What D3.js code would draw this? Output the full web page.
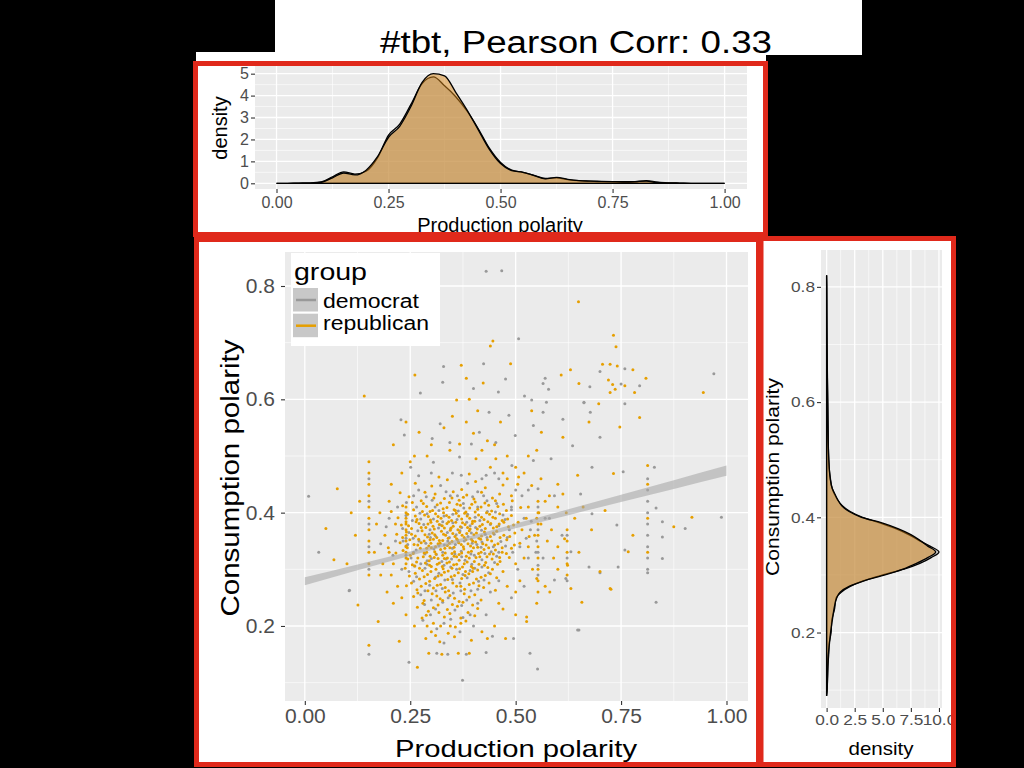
<!DOCTYPE html>
<html>
<head>
<meta charset="utf-8">
<script src="https://d3js.org/d3.v7.min.js"></script>
<style>
  body { margin: 0; background: #000; }
  svg { display: block; font-family: "Liberation Sans", Arial, sans-serif; }
</style>
</head>
<body>
<div id="chart"></div>
<script>
// Chart data

var titleText = "#tbt, Pearson Corr: 0.33";
var groups = ["democrat", "republican"];
var groupColors = { democrat: "#999999", republican: "#E69F00" };

// top panel: density of production polarity
var prodGrid = [0, 0.025, 0.05, 0.075, 0.1, 0.125, 0.15, 0.175, 0.2, 0.225, 0.25, 0.275, 0.3, 0.325,
  0.35, 0.375, 0.4, 0.425, 0.45, 0.475, 0.5, 0.525, 0.55, 0.575, 0.6, 0.625, 0.65, 0.675, 0.7, 0.725,
  0.75, 0.775, 0.8, 0.825, 0.85, 0.875, 0.9, 0.925, 0.95, 0.975, 1.0];
var prodDem = [0, 0, 0.01, 0.02, 0.06, 0.3, 0.52, 0.42, 0.55, 1.15, 2.2, 2.7, 3.6, 4.55, 4.85, 4.45,
  3.95, 3.3, 2.5, 1.6, 0.95, 0.6, 0.5, 0.36, 0.22, 0.25, 0.17, 0.12, 0.1, 0.08, 0.08, 0.06, 0.07, 0.12,
  0.05, 0.02, 0.01, 0, 0, 0, 0];
var prodRep = [0, 0, 0.01, 0.01, 0.05, 0.25, 0.47, 0.38, 0.6, 1.2, 2.1, 2.6, 3.5, 4.6, 5.0, 4.9,
  4.15, 3.35, 2.45, 1.55, 0.9, 0.58, 0.5, 0.35, 0.2, 0.27, 0.18, 0.12, 0.1, 0.09, 0.08, 0.07, 0.08, 0.1,
  0.04, 0.02, 0.01, 0, 0, 0, 0];

// right panel: density of consumption polarity
var consGrid = [0.09, 0.10, 0.12, 0.14, 0.16, 0.18, 0.20, 0.22, 0.24, 0.26, 0.27, 0.28, 0.29, 0.30,
  0.31, 0.32, 0.33, 0.34, 0.35, 0.36, 0.37, 0.38, 0.39, 0.40, 0.41, 0.42, 0.43, 0.44, 0.45, 0.47,
  0.50, 0.55, 0.60, 0.65, 0.70, 0.75, 0.80, 0.82];
var consDem = [0, 0.04, 0.08, 0.1, 0.18, 0.22, 0.4, 0.45, 0.7, 0.85, 1.3, 2.1, 3.3, 5.0, 6.9, 8.3,
  9.3, 10.0, 9.2, 8.2, 7.3, 6.2, 4.8, 3.2, 2.1, 1.4, 1.0, 0.7, 0.5, 0.32, 0.18, 0.14, 0.1, 0.07, 0.04,
  0.03, 0.02, 0];
var consRep = [0, 0.05, 0.08, 0.12, 0.15, 0.25, 0.35, 0.5, 0.65, 0.9, 1.2, 2.0, 3.4, 5.2, 6.8, 8.0,
  9.0, 9.7, 9.0, 8.3, 7.5, 6.4, 5.0, 3.1, 2.0, 1.35, 1.0, 0.75, 0.5, 0.3, 0.2, 0.12, 0.1, 0.06, 0.04,
  0.02, 0.01, 0];

// linear fit with its band
var smoothX = [0, 0.125, 0.25, 0.375, 0.5, 0.625, 0.75, 0.875, 1.0];
var smoothFit = [0.279, 0.3034, 0.3278, 0.3521, 0.3765, 0.4009, 0.4253, 0.4496, 0.474];
var smoothSE = [0.007, 0.0052, 0.0038, 0.0033, 0.0042, 0.0053, 0.0065, 0.0078, 0.009];

// scatter: [production, consumption]
var demPoints = [
  [.43,.826],[.467,.827],[.507,.707],[.329,.658],[.424,.663],[.327,.63],[.40,.619],[.459,.613],
  [.476,.636],[.274,.611],[.57,.637],[.565,.628],[.578,.618],[.676,.622],[.70,.649],[.759,.654],
  [.75,.627],[.794,.624],[.97,.645],[.521,.606],[.538,.599],[.573,.595],[.662,.595],[.437,.577],
  [.484,.572],[.228,.564],[.321,.557],[.302,.531],[.236,.537],[.344,.524],[.395,.521],[.414,.542],
  [.453,.524],[.499,.536],[.565,.577],[.542,.554],[.612,.565],[.635,.518],[.677,.577],[.70,.533],
  [.759,.592],[.662,.594],[.251,.48],[.305,.489],[.367,.498],[.371,.466],[.43,.466],[.491,.483],
  [.542,.492],[.584,.495],[.553,.442],[.592,.43],[.654,.433],[.681,.48],[.755,.472],[.829,.48],
  [.681,.398],[.74,.378],[.759,.334],[.848,.384],[.848,.357],[.902,.372],[.988,.392],[.833,.408],
  [.833,.242],[.743,.304],[.848,.319],[.674,.304],[.631,.331],[.619,.284],[.592,.281],[.553,.307],
  [.65,.193],[.009,.429],[.033,.33],[.106,.263],[.152,.15],[.247,.136],[.374,.104],[.552,.124],
  [.647,.193],[.534,.152],[.313,.152],[.339,.15],[.383,.15],[.43,.153],[.495,.178],[.445,.182],
  [.813,.294],[.70,.294],[.105,.262],
  [.152,.46],[.152,.42],[.152,.38],[.152,.34],[.152,.30],
  [.24,.395],[.24,.355],[.24,.325],
  [.553,.41],[.553,.37],[.553,.33],[.553,.29],[.622,.36],[.622,.32],[.622,.28],
  [.813,.46],[.813,.44],[.813,.42],[.813,.40],[.813,.38],[.813,.36],[.813,.34],[.813,.32],[.813,.30],
  [.193,.375],[.209,.325],[.18,.345],[.525,.355],[.548,.33],[.505,.3],[.537,.385],[.58,.39],
  [.565,.32],[.61,.36],[.5,.44],[.53,.44],[.46,.46],
  [.27,.44],[.322,.448],[.386,.452],[.41,.437],[.241,.418],[.302,.422],[.345,.43],[.376,.416],
  [.432,.421],[.265,.41],[.29,.398],[.318,.404],[.351,.397],[.377,.408],[.404,.392],[.433,.402],
  [.47,.396],[.255,.386],[.282,.379],[.305,.389],[.327,.384],[.346,.372],[.361,.388],[.392,.377],
  [.415,.386],[.44,.379],[.475,.388],[.232,.372],[.268,.368],[.295,.362],[.317,.373],[.338,.365],
  [.359,.361],[.372,.374],[.395,.364],[.419,.369],[.449,.362],[.485,.37],[.257,.355],[.287,.346],
  [.31,.359],[.331,.343],[.343,.356],[.364,.348],[.387,.358],[.408,.344],[.432,.356],[.465,.349],
  [.233,.35],[.264,.334],[.285,.327],[.306,.336],[.327,.33],[.35,.337],[.371,.332],[.394,.327],
  [.418,.339],[.442,.331],[.476,.341],[.252,.32],[.275,.31],[.3,.319],[.325,.314],[.348,.318],
  [.372,.322],[.396,.309],[.42,.317],[.455,.323],[.247,.296],[.285,.302],[.318,.293],[.346,.304],
  [.375,.291],[.403,.302],[.436,.294],[.258,.279],[.296,.272],[.332,.281],[.368,.276],[.412,.279],
  [.275,.255],[.311,.262],[.352,.258],[.394,.262],[.284,.238],[.327,.242],[.372,.236],[.298,.22],
  [.346,.212],[.392,.22],[.313,.195],[.368,.19],[.33,.17],
  [.258,.43],[.288,.428],[.335,.437],[.362,.43],[.398,.428],[.424,.43],[.455,.416],
  [.273,.399],[.309,.41],[.33,.394],[.364,.403],[.386,.397],[.41,.41],[.452,.401],[.49,.405],
  [.247,.365],[.275,.389],[.297,.37],[.322,.378],[.351,.382],[.368,.368],[.384,.383],[.405,.374],
  [.428,.362],[.46,.377],[.244,.344],[.271,.35],[.298,.356],[.318,.342],[.339,.35],[.357,.344],
  [.378,.35],[.397,.346],[.42,.348],[.447,.34],[.48,.356],[.258,.33],[.29,.315],[.312,.326],
  [.335,.318],[.356,.327],[.38,.316],[.402,.325],[.427,.328],[.46,.33],[.493,.33],
  [.26,.306],[.29,.309],[.33,.307],[.36,.3],[.392,.298],[.42,.304],[.45,.312],
  [.265,.287],[.31,.286],[.35,.282],[.385,.285],[.425,.281],[.285,.262],[.326,.266],[.37,.262],
  [.41,.265],[.3,.246],[.34,.25],[.384,.246],[.31,.23],[.356,.228],[.28,.21],[.33,.205],[.375,.215],
  [.4,.2],[.2,.39],[.215,.35],[.23,.3],[.22,.41],[.49,.41],[.52,.39],[.535,.37],[.51,.34],[.53,.32],
  [.55,.35],[.57,.39],[.515,.43],[.45,.47],[.42,.46],[.35,.47],[.3,.47],[.27,.465],[.52,.27],
  [.49,.25],[.46,.28],[.44,.26],[.41,.24],[.43,.22]
];
var repPoints = [
  [.649,.772],[.732,.713],[.738,.693],[.446,.703],[.44,.694],[.371,.66],[.488,.663],[.261,.643],
  [.383,.637],[.423,.629],[.141,.606],[.608,.643],[.63,.652],[.65,.628],[.706,.662],[.724,.662],
  [.741,.659],[.778,.652],[.72,.634],[.73,.626],[.736,.618],[.759,.624],[.782,.612],[.809,.637],
  [.724,.612],[.945,.612],[.36,.599],[.41,.58],[.464,.56],[.24,.56],[.383,.56],[.271,.542],
  [.21,.52],[.367,.521],[.433,.527],[.538,.58],[.561,.542],[.612,.533],[.674,.56],[.697,.592],
  [.747,.551],[.794,.568],[.29,.50],[.344,.51],[.406,.495],[.453,.495],[.507,.463],[.55,.51],
  [.538,.448],[.612,.433],[.647,.466],[.732,.469],[.813,.483],[.712,.404],[.778,.36],[.767,.331],
  [.875,.375],[.918,.392],[.724,.266],[.70,.296],[.616,.354],[.623,.307],[.631,.266],[.581,.26],
  [.55,.284],[.526,.216],[.077,.442],[.05,.372],[.069,.317],[.126,.237],[.152,.166],[.267,.127],
  [.294,.152],[.325,.15],[.364,.152],[.39,.152],[.476,.178],[.433,.178],[.526,.208],[.657,.242],
  [.726,.265],[.224,.173],[.174,.208],
  [.152,.49],[.152,.47],[.152,.45],[.152,.43],[.152,.41],[.152,.39],[.152,.37],[.152,.35],
  [.152,.33],[.152,.31],[.152,.29],
  [.24,.41],[.24,.40],[.24,.39],[.24,.38],[.24,.37],[.24,.36],[.24,.35],[.24,.34],[.24,.33],
  [.24,.32],[.24,.31],
  [.553,.42],[.553,.40],[.553,.38],[.553,.36],[.553,.34],[.553,.32],[.553,.30],[.553,.28],[.553,.26],
  [.622,.37],[.622,.35],[.622,.33],[.622,.31],[.622,.29],[.813,.45],[.813,.39],[.813,.33],
  [.19,.36],[.198,.338],[.185,.31],[.205,.29],[.2,.42],[.178,.4],[.515,.37],[.53,.34],[.545,.36],
  [.52,.32],[.56,.38],[.575,.35],[.54,.3],[.51,.28],[.5,.26],[.53,.41],[.555,.4],[.49,.43],
  [.505,.45],[.52,.47],[.47,.47],[.44,.48],[.48,.46],[.55,.39],[.585,.37],[.6,.41],[.6,.34],
  [.59,.32],[.57,.42],
  [.18,.29],[.195,.26],[.21,.24],[.215,.38],[.205,.45],[.23,.47],[.25,.49],[.26,.5],[.3,.52],
  [.33,.55],[.35,.57],[.39,.6],[.4,.54],[.42,.51],[.45,.52],[.48,.5],[.5,.48],[.53,.5],[.56,.46],
  [.58,.43],[.6,.45],[.62,.4],[.64,.39],[.66,.41],[.68,.37],[.65,.33],[.6,.3],[.57,.27],[.55,.24],
  [.5,.22],[.45,.2],[.42,.19],[.46,.24],[.48,.27],[.5,.31],[.47,.23],[.26,.2],[.24,.22],[.23,.25],
  [.22,.27],[.21,.31],[.2,.33],[.17,.38],[.165,.33],[.12,.36],[.1,.31],[.13,.42],[.11,.4],
  [.262,.452],[.301,.447],[.338,.458],[.372,.441],[.405,.455],[.428,.444],[.47,.449],[.318,.463],
  [.39,.468],[.285,.436],
  [.247,.428],[.276,.421],[.309,.433],[.331,.425],[.352,.437],[.366,.422],[.384,.431],[.401,.424],
  [.419,.436],[.445,.426],[.462,.433],[.492,.421],[.226,.435],
  [.232,.412],[.258,.405],[.281,.416],[.297,.402],[.314,.414],[.328,.407],[.343,.418],[.357,.404],
  [.369,.413],[.382,.401],[.396,.415],[.41,.406],[.427,.417],[.443,.403],[.458,.411],[.478,.404],
  [.512,.409],[.205,.402],
  [.221,.391],[.244,.397],[.266,.388],[.284,.396],[.298,.387],[.31,.398],[.323,.39],[.336,.395],
  [.348,.386],[.359,.399],[.372,.389],[.385,.394],[.398,.385],[.412,.396],[.425,.388],[.438,.397],
  [.452,.39],[.468,.386],[.49,.395],[.525,.39],
  [.229,.378],[.253,.372],[.271,.381],[.287,.374],[.299,.383],[.307,.371],[.319,.379],[.331,.373],
  [.341,.384],[.352,.376],[.363,.37],[.374,.382],[.386,.374],[.397,.381],[.409,.371],[.421,.379],
  [.434,.384],[.447,.373],[.461,.38],[.483,.375],[.506,.383],[.24,.384],
  [.218,.362],[.241,.366],[.262,.359],[.278,.368],[.291,.357],[.302,.364],[.313,.356],[.324,.367],
  [.334,.36],[.345,.369],[.356,.358],[.367,.365],[.378,.356],[.39,.368],[.401,.361],[.413,.355],
  [.426,.366],[.44,.358],[.455,.367],[.472,.36],[.498,.364],[.532,.358],
  [.226,.347],[.249,.352],[.268,.343],[.283,.35],[.294,.341],[.305,.353],[.316,.345],[.327,.351],
  [.338,.342],[.349,.349],[.36,.354],[.371,.344],[.382,.352],[.393,.341],[.405,.348],[.417,.353],
  [.43,.343],[.443,.35],[.458,.345],[.479,.352],[.51,.346],[.24,.341],
  [.233,.333],[.257,.328],[.274,.337],[.289,.33],[.3,.338],[.311,.327],[.322,.335],[.333,.329],
  [.344,.338],[.355,.331],[.366,.326],[.377,.336],[.388,.33],[.4,.338],[.412,.328],[.425,.335],
  [.438,.327],[.452,.334],[.468,.33],[.49,.337],[.216,.329],
  [.244,.318],[.265,.313],[.281,.322],[.295,.315],[.307,.321],[.319,.311],[.331,.319],[.343,.313],
  [.354,.323],[.366,.316],[.378,.31],[.39,.32],[.402,.314],[.415,.322],[.429,.312],[.444,.318],
  [.463,.314],[.485,.321],
  [.238,.302],[.261,.306],[.279,.298],[.296,.307],[.311,.3],[.326,.305],[.34,.297],[.353,.308],
  [.367,.301],[.381,.296],[.395,.305],[.41,.299],[.426,.307],[.445,.3],[.47,.296],
  [.248,.288],[.272,.283],[.291,.291],[.308,.284],[.324,.29],[.339,.282],[.355,.289],[.372,.284],
  [.389,.292],[.407,.283],[.428,.289],[.455,.285],
  [.241,.271],[.266,.264],[.287,.275],[.305,.267],[.322,.273],[.341,.262],[.36,.27],[.379,.265],
  [.4,.276],[.424,.268],[.452,.263],
  [.258,.252],[.283,.245],[.302,.257],[.321,.248],[.344,.254],[.366,.243],[.39,.251],[.418,.246],
  [.267,.233],[.293,.226],[.316,.237],[.338,.229],[.362,.235],[.387,.224],[.41,.231],
  [.278,.214],[.305,.205],[.331,.216],[.357,.198],[.382,.209],[.3,.19],[.34,.187],
  [.287,.178],[.32,.172],[.355,.181],[.395,.175],
  [.255,.418],[.289,.411],[.306,.426],[.322,.417],[.337,.409],[.349,.426],[.361,.415],[.376,.427],
  [.391,.408],[.404,.419],[.418,.41],[.436,.413],[.452,.421],[.471,.415],
  [.262,.394],[.279,.402],[.293,.393],[.303,.404],[.316,.393],[.329,.4],[.342,.392],[.354,.405],
  [.365,.394],[.379,.399],[.391,.39],[.404,.401],[.419,.392],[.431,.4],[.446,.392],[.462,.398],
  [.481,.389],
  [.246,.377],[.264,.384],[.276,.374],[.292,.38],[.304,.376],[.314,.385],[.326,.377],[.337,.381],
  [.347,.373],[.358,.383],[.369,.375],[.38,.379],[.392,.371],[.403,.385],[.415,.376],[.428,.372],
  [.441,.381],[.455,.375],[.472,.383],[.495,.378],
  [.232,.356],[.253,.362],[.27,.353],[.285,.361],[.297,.352],[.308,.361],[.319,.351],[.329,.362],
  [.34,.355],[.351,.363],[.362,.352],[.373,.36],[.384,.363],[.395,.353],[.407,.364],[.419,.359],
  [.433,.352],[.447,.364],[.463,.356],[.486,.358],
  [.243,.338],[.259,.344],[.276,.347],[.289,.337],[.299,.346],[.31,.34],[.321,.346],[.332,.337],
  [.343,.346],[.354,.339],[.365,.347],[.376,.34],[.387,.345],[.398,.35],[.41,.339],[.422,.345],
  [.436,.338],[.45,.343],[.468,.338],[.497,.343],
  [.25,.325],[.268,.32],[.283,.329],[.297,.323],[.308,.331],[.316,.319],[.327,.325],[.338,.32],
  [.349,.328],[.36,.322],[.372,.329],[.383,.323],[.395,.332],[.406,.321],[.418,.33],[.432,.322],
  [.447,.327],[.462,.321],[.478,.328],
  [.255,.308],[.272,.302],[.286,.311],[.3,.305],[.314,.309],[.328,.301],[.337,.311],[.349,.302],
  [.36,.309],[.374,.304],[.385,.313],[.399,.302],[.413,.309],[.434,.303],[.457,.309],
  [.262,.293],[.283,.287],[.299,.296],[.316,.288],[.331,.295],[.347,.287],[.364,.294],[.38,.289],
  [.398,.296],[.418,.286],[.44,.292],
  [.253,.276],[.276,.27],[.296,.279],[.314,.272],[.333,.268],[.351,.276],[.37,.27],[.39,.273],
  [.413,.271],[.437,.276],
  [.268,.258],[.292,.262],[.313,.253],[.333,.26],[.355,.249],[.378,.257],[.403,.255],
  [.28,.24],[.305,.232],[.327,.245],[.35,.238],[.375,.242],[.398,.237],
  [.288,.219],[.318,.224],[.344,.222],[.37,.214],[.403,.218],[.29,.2],[.322,.2],[.37,.205],
  [.31,.183],[.345,.2]
];

// Layout helpers
var font = "'Liberation Sans', Arial, sans-serif";
var red = "#e0291b";
var tickGrey = "#4d4d4d";

var svg = d3.select("#chart").append("svg")
    .attr("width", 1024)
    .attr("height", 768);

svg.append("rect").attr("width", 1024).attr("height", 768).attr("fill", "#000");

// widen a text element horizontally like the stretched source image
function stretchText(sel, k) {
  sel.each(function() {
    var w = this.getComputedTextLength();
    d3.select(this).attr("textLength", w * k).attr("lengthAdjust", "spacingAndGlyphs");
  });
}

function panelGrid(x, y, xMaj, xMin, yMaj, yMin) {
  var g = svg.append("g");
  var xr = x.range(), yr = y.range();
  g.append("rect")
      .attr("x", xr[0]).attr("y", yr[1])
      .attr("width", xr[1] - xr[0]).attr("height", yr[0] - yr[1])
      .attr("fill", "#ebebeb");
  g.selectAll(".xmin").data(xMin).enter().append("line")
      .attr("x1", x).attr("x2", x).attr("y1", yr[0]).attr("y2", yr[1])
      .attr("stroke", "#fff").attr("stroke-width", 0.6);
  g.selectAll(".ymin").data(yMin).enter().append("line")
      .attr("y1", y).attr("y2", y).attr("x1", xr[0]).attr("x2", xr[1])
      .attr("stroke", "#fff").attr("stroke-width", 0.6);
  g.selectAll(".xmaj").data(xMaj).enter().append("line")
      .attr("x1", x).attr("x2", x).attr("y1", yr[0]).attr("y2", yr[1])
      .attr("stroke", "#fff").attr("stroke-width", 1.3);
  g.selectAll(".ymaj").data(yMaj).enter().append("line")
      .attr("y1", y).attr("y2", y).attr("x1", xr[0]).attr("x2", xr[1])
      .attr("stroke", "#fff").attr("stroke-width", 1.3);
}

function styleAxis(g, size, k) {
  g.select(".domain").remove();
  g.selectAll(".tick line").attr("stroke", "#333").attr("stroke-width", 1.1);
  g.selectAll(".tick text")
      .attr("fill", tickGrey)
      .style("font-family", font)
      .style("font-size", size + "px");
  stretchText(g.selectAll(".tick text"), k);
}

// Title box
svg.append("rect").attr("x", 275).attr("y", 0).attr("width", 587).attr("height", 55).attr("fill", "#fff");

// ---------- top panel ----------
svg.append("rect").attr("x", 196).attr("y", 52).attr("width", 570).attr("height", 184).attr("fill", "#fff");

var topX = d3.scaleLinear().domain([-0.048, 1.05]).range([255, 747]);
var topY = d3.scaleLinear().domain([-0.26, 5.35]).range([189, 66]);
panelGrid(topX, topY, [0, 0.25, 0.5, 0.75, 1], [0.125, 0.375, 0.625, 0.875],
  [0, 1, 2, 3, 4, 5], [0.5, 1.5, 2.5, 3.5, 4.5]);

var topArea = d3.area().curve(d3.curveMonotoneX)
    .x(function(d) { return topX(d[0]); })
    .y0(topY(0))
    .y1(function(d) { return topY(d[1]); });

svg.append("path")
    .datum(d3.zip(prodGrid, prodDem))
    .attr("d", topArea)
    .attr("fill", "#999999").attr("fill-opacity", 0.5)
    .attr("stroke", "#000").attr("stroke-width", 1.3);
svg.append("path")
    .datum(d3.zip(prodGrid, prodRep))
    .attr("d", topArea)
    .attr("fill", "#dc8a1a").attr("fill-opacity", 0.5)
    .attr("stroke", "#000").attr("stroke-width", 1.3);

var topXAxis = svg.append("g").attr("transform", "translate(0," + 189 + ")")
    .call(d3.axisBottom(topX).tickValues([0, 0.25, 0.5, 0.75, 1]).tickFormat(d3.format(".2f"))
      .tickSize(4).tickPadding(4));
styleAxis(topXAxis, 16, 1.0);
var topYAxis = svg.append("g").attr("transform", "translate(" + 255 + ",0)")
    .call(d3.axisLeft(topY).tickValues([0, 1, 2, 3, 4, 5]).tickFormat(d3.format("d"))
      .tickSize(4).tickPadding(2));
styleAxis(topYAxis, 16, 1.0);

svg.append("text")
    .attr("x", 500).attr("y", 232)
    .attr("text-anchor", "middle")
    .style("font-family", font).style("font-size", "20px")
    .text("Production polarity");
svg.append("text")
    .attr("transform", "translate(227,128) rotate(-90)")
    .attr("text-anchor", "middle")
    .style("font-family", font).style("font-size", "20px")
    .text("density");

// title text goes over both white areas
svg.append("text")
    .attr("x", 576).attr("y", 53)
    .attr("text-anchor", "middle")
    .style("font-family", font).style("font-size", "31px")
    .attr("textLength", 392).attr("lengthAdjust", "spacingAndGlyphs")
    .text(titleText);

// ---------- main scatter panel ----------
svg.append("rect").attr("x", 197).attr("y", 238).attr("width", 563).attr("height", 528).attr("fill", "#fff");

var mainX = d3.scaleLinear().domain([-0.047, 1.051]).range([285, 748]);
var mainY = d3.scaleLinear().domain([0.0676, 0.86]).range([701, 252]);
panelGrid(mainX, mainY, [0, 0.25, 0.5, 0.75, 1], [0.125, 0.375, 0.625, 0.875],
  [0.2, 0.4, 0.6, 0.8], [0.1, 0.3, 0.5, 0.7]);

svg.append("clipPath").attr("id", "mainClip")
  .append("rect").attr("x", 285).attr("y", 252).attr("width", 463).attr("height", 449);

var pts = svg.append("g").attr("clip-path", "url(#mainClip)");
pts.selectAll(".dem").data(demPoints).enter().append("circle")
    .attr("cx", function(d) { return mainX(d[0]); })
    .attr("cy", function(d) { return mainY(d[1]); })
    .attr("r", 1.5)
    .attr("fill", groupColors.democrat);
pts.selectAll(".rep").data(repPoints).enter().append("circle")
    .attr("cx", function(d) { return mainX(d[0]); })
    .attr("cy", function(d) { return mainY(d[1]); })
    .attr("r", 1.5)
    .attr("fill", groupColors.republican);

var band = d3.area().curve(d3.curveMonotoneX)
    .x(function(d) { return mainX(d[0]); })
    .y0(function(d) { return mainY(d[1] - d[2]); })
    .y1(function(d) { return mainY(d[1] + d[2]); });
pts.append("path")
    .datum(d3.zip(smoothX, smoothFit, smoothSE))
    .attr("d", band)
    .attr("fill", "#a8a8a8").attr("fill-opacity", 0.6);

var mainXAxis = svg.append("g").attr("transform", "translate(0," + 701 + ")")
    .call(d3.axisBottom(mainX).tickValues([0, 0.25, 0.5, 0.75, 1]).tickFormat(d3.format(".2f"))
      .tickSize(4).tickPadding(4));
styleAxis(mainXAxis, 20, 1.05);
var mainYAxis = svg.append("g").attr("transform", "translate(" + 285 + ",0)")
    .call(d3.axisLeft(mainY).tickValues([0.2, 0.4, 0.6, 0.8]).tickFormat(d3.format(".1f"))
      .tickSize(4).tickPadding(6));
styleAxis(mainYAxis, 20, 1.05);

svg.append("text")
    .attr("x", 516).attr("y", 757)
    .attr("text-anchor", "middle")
    .style("font-family", font).style("font-size", "24px")
    .attr("textLength", 242).attr("lengthAdjust", "spacingAndGlyphs")
    .text("Production polarity");
svg.append("text")
    .attr("transform", "translate(239,478) rotate(-90)")
    .attr("text-anchor", "middle")
    .style("font-family", font).style("font-size", "25px")
    .attr("textLength", 277).attr("lengthAdjust", "spacingAndGlyphs")
    .text("Consumption polarity");

// legend
var legend = svg.append("g");
legend.append("rect").attr("x", 291).attr("y", 253).attr("width", 149).attr("height", 93).attr("fill", "#fff");
legend.append("text")
    .attr("x", 294).attr("y", 280)
    .style("font-family", font).style("font-size", "23px")
    .attr("textLength", 73).attr("lengthAdjust", "spacingAndGlyphs")
    .text("group");
var keyRows = legend.selectAll(".key").data(groups).enter().append("g")
    .attr("transform", function(d, i) { return "translate(293," + (288 + i * 25.7) + ")"; });
keyRows.append("rect").attr("width", 25).attr("height", 23.5).attr("fill", "#c8c8c8");
keyRows.append("line")
    .attr("x1", 3).attr("x2", 23).attr("y1", 12).attr("y2", 12)
    .attr("stroke", function(d) { return groupColors[d]; })
    .attr("stroke-width", 2.5);
keyRows.append("text")
    .attr("x", 30).attr("y", function(d, i) { return i === 0 ? 20 : 16.5; })
    .style("font-family", font).style("font-size", "20px")
    .attr("textLength", function(d) { return d === "democrat" ? 96 : 106; })
    .attr("lengthAdjust", "spacingAndGlyphs")
    .text(function(d) { return d; });

// ---------- right panel ----------
svg.append("rect").attr("x", 762).attr("y", 238).attr("width", 191).attr("height", 528).attr("fill", "#fff");

var rightX = d3.scaleLinear().domain([-0.5, 10.27]).range([821, 942]);
var rightY = d3.scaleLinear().domain([0.069, 0.864]).range([708, 250]);
panelGrid(rightX, rightY, [0, 2.5, 5, 7.5, 10], [1.25, 3.75, 6.25, 8.75],
  [0.2, 0.4, 0.6, 0.8], [0.1, 0.3, 0.5, 0.7]);

var rightArea = d3.area().curve(d3.curveMonotoneY)
    .y(function(d) { return rightY(d[0]); })
    .x0(rightX(0))
    .x1(function(d) { return rightX(d[1]); });

svg.append("path")
    .datum(d3.zip(consGrid, consDem))
    .attr("d", rightArea)
    .attr("fill", "#999999").attr("fill-opacity", 0.5)
    .attr("stroke", "#000").attr("stroke-width", 1.3);
svg.append("path")
    .datum(d3.zip(consGrid, consRep))
    .attr("d", rightArea)
    .attr("fill", "#dc8a1a").attr("fill-opacity", 0.5)
    .attr("stroke", "#000").attr("stroke-width", 1.3);

svg.append("clipPath").attr("id", "rightClip")
  .append("rect").attr("x", 762).attr("y", 238).attr("width", 189).attr("height", 528);
var rightAxes = svg.append("g").attr("clip-path", "url(#rightClip)");

var rightXAxis = rightAxes.append("g").attr("transform", "translate(0," + 708 + ")")
    .call(d3.axisBottom(rightX).tickValues([0, 2.5, 5, 7.5, 10]).tickFormat(d3.format(".1f"))
      .tickSize(4).tickPadding(2));
styleAxis(rightXAxis, 15, 1.15);
var rightYAxis = rightAxes.append("g").attr("transform", "translate(" + 821 + ",0)")
    .call(d3.axisLeft(rightY).tickValues([0.2, 0.4, 0.6, 0.8]).tickFormat(d3.format(".1f"))
      .tickSize(4).tickPadding(2));
styleAxis(rightYAxis, 15, 1.15);

svg.append("text")
    .attr("x", 881).attr("y", 755)
    .attr("text-anchor", "middle")
    .style("font-family", font).style("font-size", "19px")
    .attr("textLength", 65).attr("lengthAdjust", "spacingAndGlyphs")
    .text("density");
svg.append("text")
    .attr("transform", "translate(779,477) rotate(-90)")
    .attr("text-anchor", "middle")
    .style("font-family", font).style("font-size", "18px")
    .attr("textLength", 198).attr("lengthAdjust", "spacingAndGlyphs")
    .text("Consumption polarity");

// ---------- red frames ----------
var frames = [
  { x: 195.5, y: 63.5, w: 570, h: 171 },
  { x: 196.5, y: 239.5, w: 562, h: 525 },
  { x: 761, y: 238.5, w: 192.5, h: 526 }
];
svg.selectAll(".frame").data(frames).enter().append("rect")
    .attr("x", function(d) { return d.x; })
    .attr("y", function(d) { return d.y; })
    .attr("width", function(d) { return d.w; })
    .attr("height", function(d) { return d.h; })
    .attr("fill", "none")
    .attr("stroke", red)
    .attr("stroke-width", 5);
</script>
</body>
</html>
